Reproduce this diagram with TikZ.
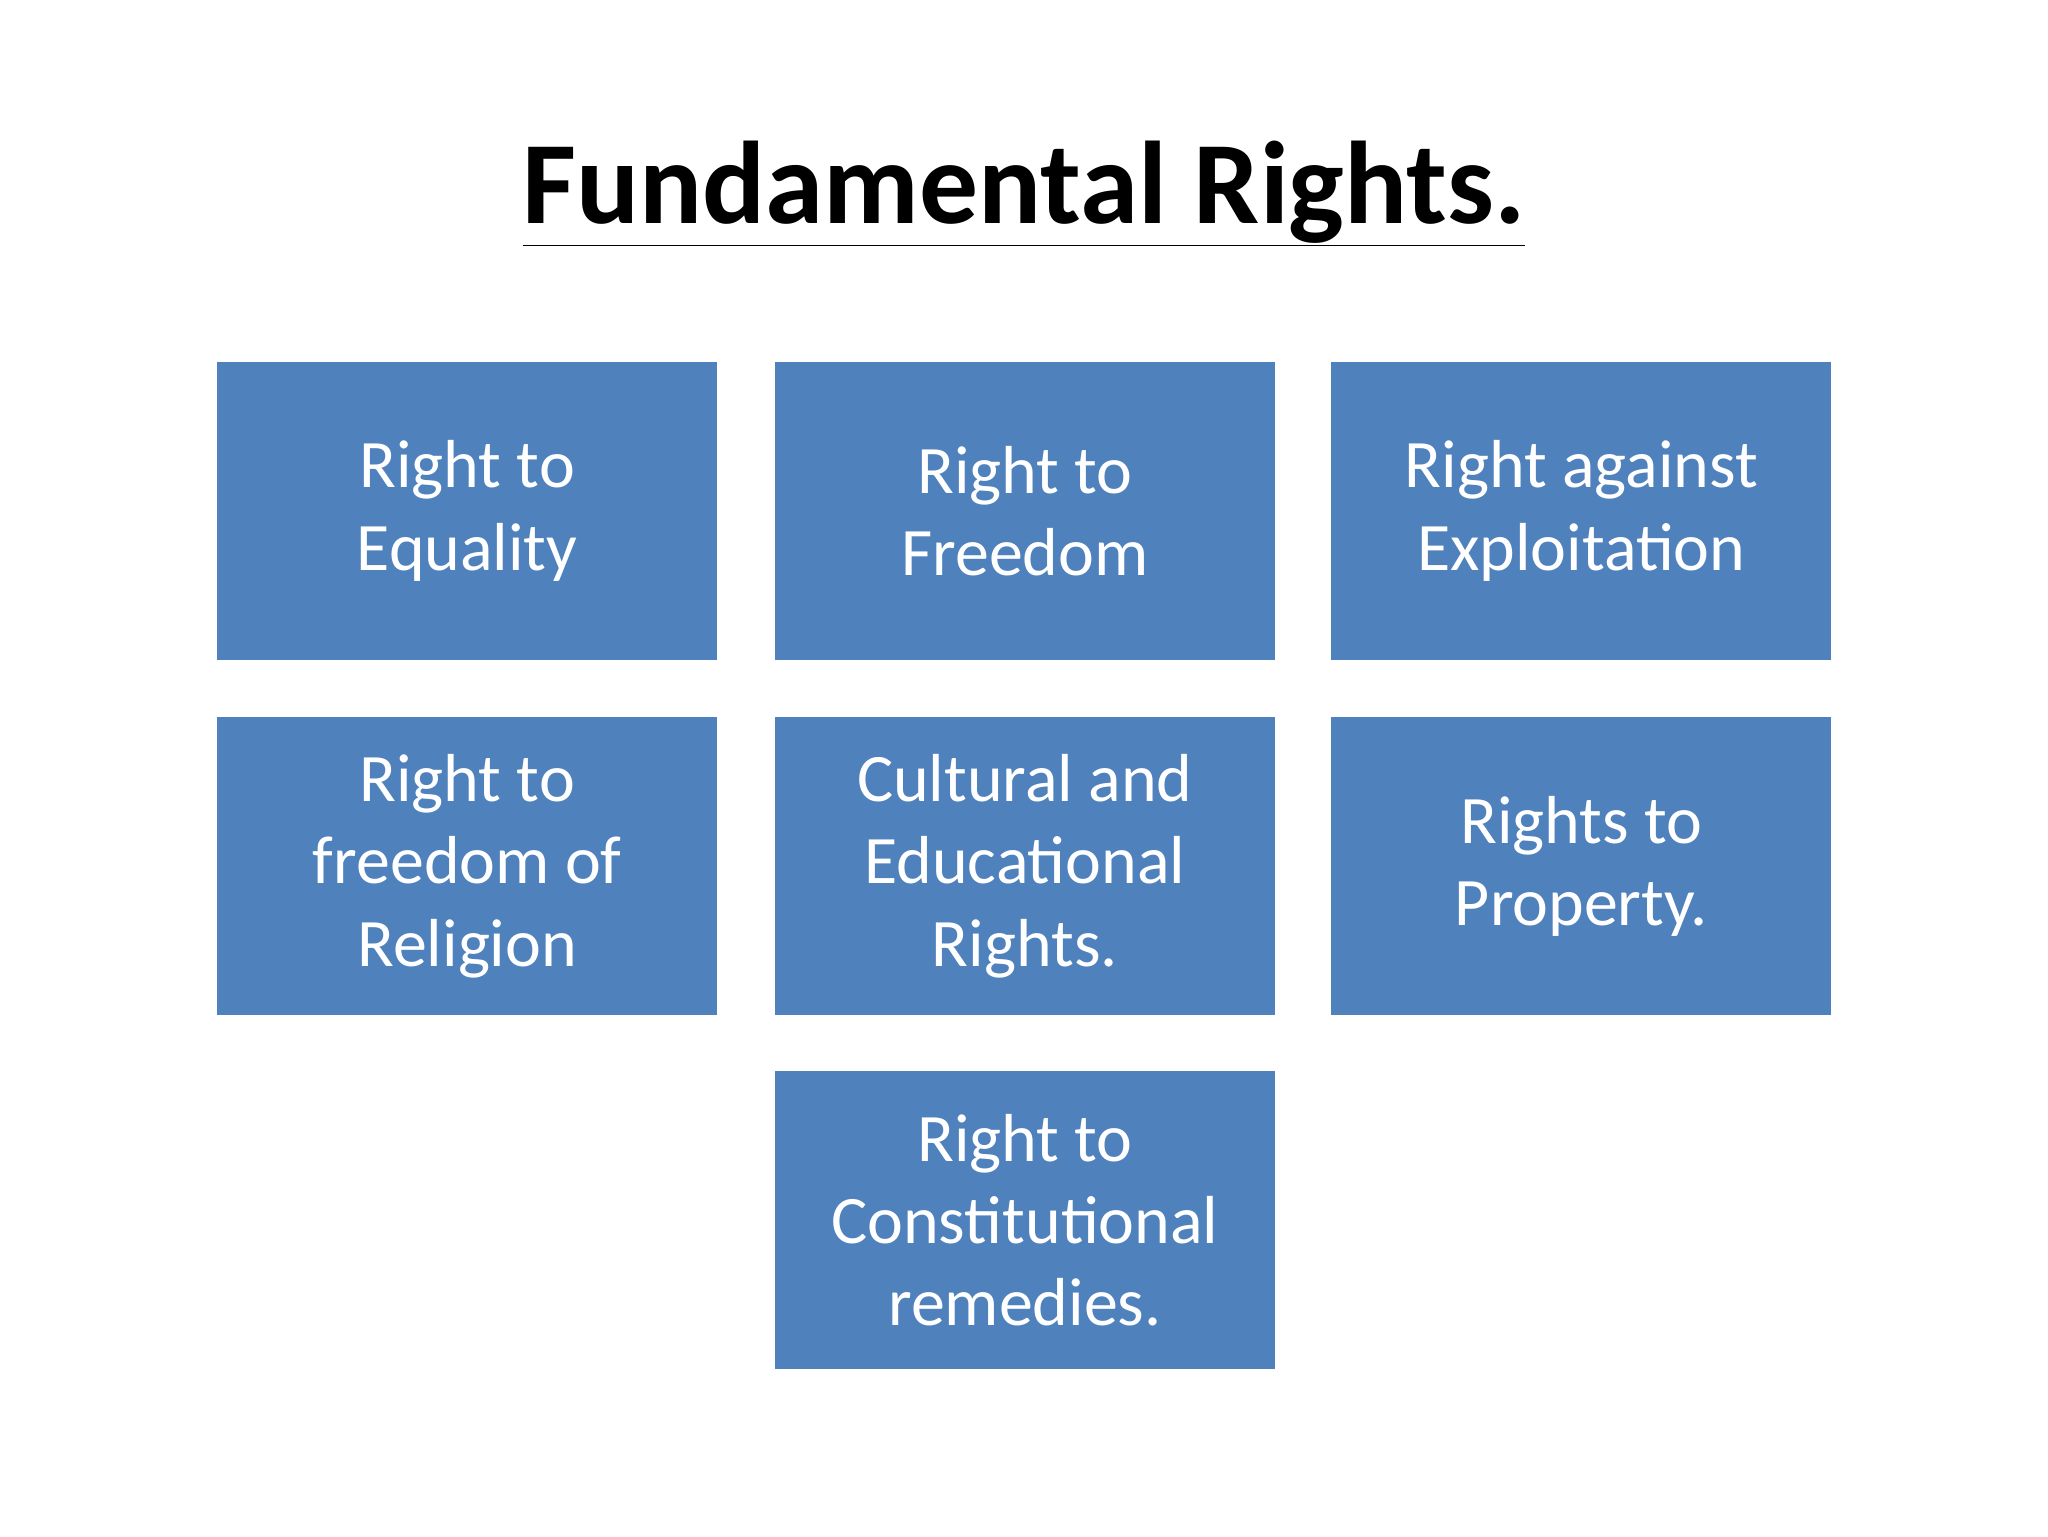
\documentclass[tikz,border=0pt]{standalone}
\usepackage{fontspec}
\setmainfont{Carlito}
\definecolor{boxblue}{HTML}{4F81BD}
\begin{document}
\begin{tikzpicture}[x=1pt,y=-1pt,
  rbox/.style={fill=boxblue,draw=none,minimum width=383pt,minimum height=228pt,anchor=north west,inner sep=0pt,text=white,align=center,font=\fontsize{52}{63}\selectfont}]
\useasboundingbox (0,0) rectangle (1568,1176);
\node[font=\bfseries\fontsize{90}{100}\selectfont,inner sep=0pt] (title) at (784,148) {\underline{Fundamental Rights.}};
\node[rbox] (b1) at (166,277) {Right to\\Equality};
\node[rbox] (b2) at (593,277) {Right to\\Freedom};
\node[rbox] (b3) at (1019,277) {Right against\\Exploitation};
\node[rbox] (b4) at (166,549) {Right to\\freedom of\\Religion};
\node[rbox] (b5) at (593,549) {Cultural and\\Educational\\Rights.};
\node[rbox] (b6) at (1019,549) {Rights to\\Property.};
\node[rbox] (b7) at (593,820) {Right to\\Constitutional\\remedies.};
\end{tikzpicture}
\end{document}
